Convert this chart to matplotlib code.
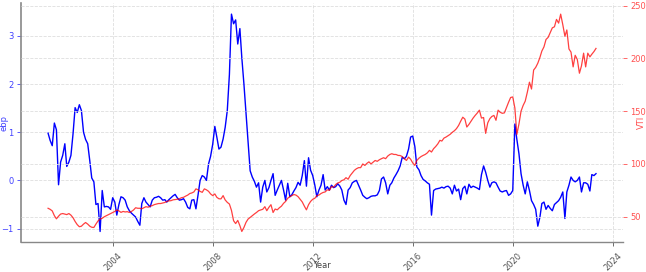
import matplotlib
matplotlib.use('Agg')
import matplotlib.pyplot as plt
import matplotlib.dates as mdates
import pandas as pd

start_month = '2001-06-01'

ebp = [0.98, 0.83, 0.72, 1.19, 1.05, -0.09, 0.38, 0.52, 0.76, 0.29,
       0.38, 0.52, 0.97, 1.51, 1.41, 1.57, 1.45, 1.0, 0.85, 0.76,
       0.4, 0.05, -0.03, -0.5, -0.48, -1.06, -0.21, -0.55, -0.54, -0.55,
       -0.6, -0.36, -0.45, -0.72, -0.5, -0.34, -0.36, -0.41, -0.55, -0.63,
       -0.68, -0.72, -0.76, -0.85, -0.93, -0.48, -0.36, -0.45, -0.5, -0.55,
       -0.41, -0.36, -0.35, -0.33, -0.36, -0.41, -0.40, -0.45, -0.40, -0.36,
       -0.32, -0.29, -0.36, -0.41, -0.40, -0.38, -0.45, -0.56, -0.59, -0.41,
       -0.40, -0.59, -0.30, 0.0, 0.1, 0.07, 0.0, 0.34, 0.5, 0.75,
       1.12, 0.9, 0.65, 0.69, 0.86, 1.1, 1.45, 2.2, 3.45, 3.25,
       3.33, 2.83, 3.15, 2.55, 2.0, 1.4, 0.8, 0.2, 0.07, -0.02,
       -0.14, -0.05, -0.45, -0.14, 0.0, -0.24, -0.15, 0.0, 0.14, -0.31,
       -0.2, -0.1, 0.0, -0.2, -0.41, -0.06, -0.34, -0.3, -0.22, -0.15,
       -0.04, -0.1, 0.1, 0.41, -0.12, 0.47, 0.21, 0.1, -0.1, -0.34,
       -0.2, -0.1, 0.12, -0.2, -0.13, -0.2, -0.1, -0.15, -0.13, -0.07,
       -0.12, -0.2, -0.41, -0.5, -0.2, -0.15, -0.05, -0.02, 0.0, -0.1,
       -0.2, -0.31, -0.35, -0.38, -0.36, -0.33, -0.32, -0.32, -0.30, -0.21,
       0.03, 0.07, -0.05, -0.28, -0.1, -0.05, 0.05, 0.12, 0.2, 0.3,
       0.48, 0.45, 0.5, 0.65, 0.9, 0.92, 0.7, 0.28, 0.22, 0.1,
       0.02, -0.01, -0.05, -0.08, -0.72, -0.21, -0.18, -0.17, -0.16, -0.14,
       -0.16, -0.13, -0.12, -0.16, -0.28, -0.1, -0.22, -0.18, -0.4, -0.17,
       -0.12, -0.28, -0.08, -0.15, -0.12, -0.14, -0.16, -0.19, 0.12, 0.3,
       0.17, 0.0, -0.14, -0.05, -0.03, -0.05, -0.14, -0.22, -0.24, -0.22,
       -0.21, -0.31, -0.28, -0.21, 1.17, 0.85, 0.55, 0.14, -0.1, -0.28,
       -0.03, -0.21, -0.42, -0.5, -0.6, -0.95, -0.76, -0.48, -0.45, -0.6,
       -0.52, -0.58, -0.63, -0.5, -0.46, -0.42, -0.35, -0.24, -0.79, -0.24,
       -0.1, 0.07, 0.0, -0.03, 0.0, 0.07, -0.24, -0.05, -0.05, -0.08,
       -0.22, 0.12, 0.1, 0.14]

vti = [58.0, 57.0, 55.5, 51.0, 48.0, 50.5, 52.5, 53.0, 52.5, 52.0,
       53.0, 51.5, 49.0, 45.5, 42.5, 40.5, 41.0, 43.0, 44.5, 43.0,
       41.0, 40.0, 39.8, 43.0, 46.0, 47.8, 48.5, 50.0, 51.0, 52.0,
       53.0, 54.0, 55.0, 56.4, 55.5, 54.1, 55.0, 54.5, 54.8, 54.0,
       55.0, 56.4, 58.5, 58.0, 58.0, 57.5, 58.5, 59.5, 59.0, 60.0,
       60.5, 61.5, 62.0, 62.5, 62.5, 63.0, 63.5, 64.5, 65.0, 65.2,
       66.0, 66.2, 66.5, 67.0, 68.0, 68.4, 69.5, 70.5, 72.0, 72.5,
       73.5, 76.4, 75.5, 74.0, 73.1, 76.4, 75.5, 74.1, 71.6, 70.0,
       71.6, 68.4, 67.0, 66.9, 70.0, 65.9, 63.6, 62.0, 56.0, 46.2,
       43.5, 46.5, 41.5, 36.0, 39.8, 44.6, 47.8, 49.3, 51.0, 52.6,
       54.0, 55.7, 56.4, 57.0, 59.5, 55.7, 58.9, 61.4, 54.0, 57.3,
       56.5, 58.5, 60.0, 62.7, 64.5, 67.5, 69.0, 70.0, 71.0, 70.5,
       69.0, 66.5, 64.0, 60.0, 56.5, 61.4, 64.5, 66.5, 67.5, 70.0,
       70.5, 72.0, 73.0, 73.5, 75.5, 75.0, 78.5, 78.0, 80.5, 82.0,
       82.7, 84.3, 85.0, 87.0, 85.5, 89.0, 91.5, 94.0, 95.5, 96.5,
       96.5, 100.0, 98.6, 100.5, 102.0, 100.0, 101.7, 103.3, 102.5, 104.0,
       105.0, 105.9, 105.0, 107.5, 109.0, 109.7, 109.0, 109.0, 108.1, 108.0,
       107.0, 105.0, 103.3, 106.5, 104.5, 101.0, 98.6, 103.3, 105.5, 107.0,
       108.1, 109.0, 110.5, 112.9, 111.3, 114.5, 116.5, 119.0, 122.4, 121.7,
       124.5, 125.5, 126.8, 128.1, 130.0, 131.5, 133.5, 136.5, 140.5, 144.3,
       142.5, 135.0, 137.5, 140.5, 143.5, 146.0, 148.3, 151.0, 143.5, 144.0,
       129.0, 139.0, 143.0, 145.0, 146.0, 141.4, 151.0, 149.0, 148.0, 148.4,
       153.5, 158.5, 163.0, 163.5, 153.0, 128.0, 138.0, 150.0, 155.5, 159.5,
       168.0, 177.5, 171.0, 189.0, 191.5, 195.5, 201.0, 207.0, 211.0, 218.0,
       220.0, 224.5, 229.0, 230.0, 237.0, 233.5, 242.0, 232.0, 221.0, 227.0,
       209.0, 206.0, 192.0, 203.0, 199.0, 186.0, 193.0, 205.0, 192.0, 205.0,
       201.5, 204.0, 206.5, 209.5]

dates = pd.date_range(start_month, periods=len(ebp), freq='MS')

fig, ax1 = plt.subplots(figsize=(6.46, 2.72), dpi=100)
fig.subplots_adjust(left=0.032, right=0.965, top=0.988, bottom=0.109)

grid_kw = dict(linestyle='--', color='#dedede', linewidth=0.6)
ax1.plot(dates, ebp, color='#0000ff', linewidth=1.0)
ax1.grid(True, **grid_kw)
ax1.set_axisbelow(True)

ax2 = ax1.twinx()
ax2.plot(dates, vti, color='#ff0000', linewidth=0.9, alpha=0.75)
ax2.grid(True, axis='y', **grid_kw)

ax1.xaxis.set_major_locator(mdates.YearLocator(4))
ax1.xaxis.set_major_formatter(mdates.DateFormatter('%Y'))
for lab in ax1.get_xticklabels():
    lab.set_rotation(45)

fs = 6
ax1.tick_params(axis='x', labelsize=fs, colors='#555555', length=3, width=0.6)
ax1.tick_params(axis='y', labelsize=fs, colors='#4040ff', length=3, width=0.6, pad=2)
ax2.tick_params(axis='y', labelsize=fs, colors='#ff5050', length=3, width=0.6, pad=2)
ax1.set_yticks([-1, 0, 1, 2, 3])
ax2.set_yticks([50, 100, 150, 200, 250])

ax1.set_xlabel('Year', fontsize=fs, color='#444444')
ax1.set_ylabel('ebp', fontsize=fs, color='#4040ff')
ax2.set_ylabel('VTI', fontsize=fs, color='#ff5050')
ax1.xaxis.set_label_coords(0.5, -0.078)
ax1.yaxis.set_label_coords(-0.021, 0.5)
ax2.yaxis.set_label_coords(1.0225, 0.5)

for s in ['top', 'right']:
    ax1.spines[s].set_visible(False)
for s in ax2.spines.values():
    s.set_visible(False)
ax1.spines['left'].set_color('#888888')
ax1.spines['left'].set_linewidth(1.2)
ax1.spines['bottom'].set_color('#888888')
ax1.spines['bottom'].set_linewidth(1.0)

fig.savefig('out.png', dpi=100)
